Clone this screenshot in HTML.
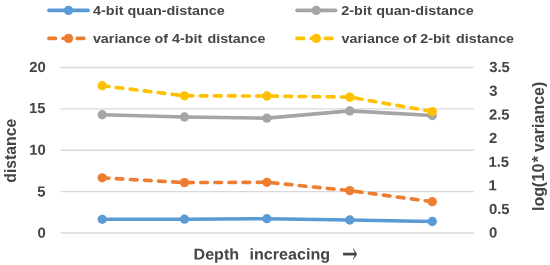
<!DOCTYPE html><html><head><meta charset="utf-8"><title>chart</title><style>html,body{margin:0;padding:0;background:#fff}svg{display:block}text{font-family:"Liberation Sans",sans-serif;font-weight:bold;fill:#454545;white-space:pre}</style></head><body>
<svg width="550" height="265" viewBox="0 0 550 265">
<rect width="550" height="265" fill="#fff"/>
<line x1="60.6" x2="474" y1="67.5" y2="67.5" stroke="#d9d9d9" stroke-width="1.33"/>
<line x1="60.6" x2="474" y1="108.9" y2="108.9" stroke="#d9d9d9" stroke-width="1.33"/>
<line x1="60.6" x2="474" y1="150.25" y2="150.25" stroke="#d9d9d9" stroke-width="1.33"/>
<line x1="60.6" x2="474" y1="191.6" y2="191.6" stroke="#d9d9d9" stroke-width="1.33"/>
<line x1="60.6" x2="474" y1="233.0" y2="233.0" stroke="#d9d9d9" stroke-width="1.33"/>
<polyline points="102.2,219.3 184.5,219.2 266.9,218.7 349.8,220.0 432.3,221.5" fill="none" stroke="#5b9bd5" stroke-width="3.6" stroke-linecap="round" stroke-linejoin="round"/><circle cx="102.2" cy="219.3" r="4.65" fill="#5b9bd5"/><circle cx="184.5" cy="219.2" r="4.65" fill="#5b9bd5"/><circle cx="266.9" cy="218.7" r="4.65" fill="#5b9bd5"/><circle cx="349.8" cy="220.0" r="4.65" fill="#5b9bd5"/><circle cx="432.3" cy="221.5" r="4.65" fill="#5b9bd5"/>
<polyline points="102.2,114.75 184.5,117.0 266.9,118.1 349.8,110.9 432.3,115.5" fill="none" stroke="#a5a5a5" stroke-width="3.6" stroke-linecap="round" stroke-linejoin="round"/><circle cx="102.2" cy="114.75" r="4.65" fill="#a5a5a5"/><circle cx="184.5" cy="117.0" r="4.65" fill="#a5a5a5"/><circle cx="266.9" cy="118.1" r="4.65" fill="#a5a5a5"/><circle cx="349.8" cy="110.9" r="4.65" fill="#a5a5a5"/><circle cx="432.3" cy="115.5" r="4.65" fill="#a5a5a5"/>
<polyline points="102.2,177.8 184.5,182.6 266.9,182.3 349.8,190.6 432.3,201.7" fill="none" stroke="#ed7d31" stroke-width="3.6" stroke-linecap="round" stroke-linejoin="round" stroke-dasharray="6.7 7.4"/><circle cx="102.2" cy="177.8" r="4.65" fill="#ed7d31"/><circle cx="184.5" cy="182.6" r="4.65" fill="#ed7d31"/><circle cx="266.9" cy="182.3" r="4.65" fill="#ed7d31"/><circle cx="349.8" cy="190.6" r="4.65" fill="#ed7d31"/><circle cx="432.3" cy="201.7" r="4.65" fill="#ed7d31"/>
<polyline points="102.2,85.7 184.5,95.8 266.9,96.0 349.8,97.1 432.3,111.6" fill="none" stroke="#ffc000" stroke-width="3.6" stroke-linecap="round" stroke-linejoin="round" stroke-dasharray="6.7 7.4"/><circle cx="102.2" cy="85.7" r="4.65" fill="#ffc000"/><circle cx="184.5" cy="95.8" r="4.65" fill="#ffc000"/><circle cx="266.9" cy="96.0" r="4.65" fill="#ffc000"/><circle cx="349.8" cy="97.1" r="4.65" fill="#ffc000"/><circle cx="432.3" cy="111.6" r="4.65" fill="#ffc000"/>
<line x1="48.90" x2="88.10" y1="10.4" y2="10.4" stroke="#5b9bd5" stroke-width="3.6" stroke-linecap="round"/><circle cx="68.50" cy="10.4" r="4.65" fill="#5b9bd5"/>
<line x1="48.90" x2="55.50" y1="38.4" y2="38.4" stroke="#ed7d31" stroke-width="3.6" stroke-linecap="round"/><line x1="63.10" x2="69.70" y1="38.4" y2="38.4" stroke="#ed7d31" stroke-width="3.6" stroke-linecap="round"/><line x1="77.30" x2="83.90" y1="38.4" y2="38.4" stroke="#ed7d31" stroke-width="3.6" stroke-linecap="round"/><circle cx="68.50" cy="38.4" r="4.65" fill="#ed7d31"/>
<line x1="297.00" x2="335.60" y1="10.4" y2="10.4" stroke="#a5a5a5" stroke-width="3.6" stroke-linecap="round"/><circle cx="316.30" cy="10.4" r="4.65" fill="#a5a5a5"/>
<line x1="297.00" x2="303.60" y1="38.4" y2="38.4" stroke="#ffc000" stroke-width="3.6" stroke-linecap="round"/><line x1="311.20" x2="317.80" y1="38.4" y2="38.4" stroke="#ffc000" stroke-width="3.6" stroke-linecap="round"/><line x1="325.40" x2="332.00" y1="38.4" y2="38.4" stroke="#ffc000" stroke-width="3.6" stroke-linecap="round"/><circle cx="316.30" cy="38.4" r="4.65" fill="#ffc000"/>
<text transform="matrix(1.0170 0.0005 0 1 29.24 72.05)" font-size="14.6">20</text>
<text transform="matrix(1.0170 0.0005 0 1 29.00 113.10)" font-size="14.6">15</text>
<text transform="matrix(1.0170 0.0005 0 1 29.24 154.70)" font-size="14.6">10</text>
<text transform="matrix(1.0170 0.0005 0 1 37.26 196.50)" font-size="14.6">5</text>
<text transform="matrix(1.0170 0.0005 0 1 37.49 237.80)" font-size="14.6">0</text>
<text transform="matrix(1.0170 0.0005 0 1 489.17 72.10)" font-size="14.6">3.5</text>
<text transform="matrix(1.0170 0.0005 0 1 489.17 95.74)" font-size="14.6">3</text>
<text transform="matrix(1.0170 0.0005 0 1 488.94 119.39)" font-size="14.6">2.5</text>
<text transform="matrix(1.0170 0.0005 0 1 488.94 143.03)" font-size="14.6">2</text>
<text transform="matrix(1.0170 0.0005 0 1 488.47 166.67)" font-size="14.6">1.5</text>
<text transform="matrix(1.0170 0.0005 0 1 488.47 190.31)" font-size="14.6">1</text>
<text transform="matrix(1.0170 0.0005 0 1 488.94 213.96)" font-size="14.6">0.5</text>
<text transform="matrix(1.0170 0.0005 0 1 488.94 237.60)" font-size="14.6">0</text>
<text transform="matrix(1.0560 0.0005 0 1 93.10 15.10)" font-size="13.6" dx="0 0 0 0 0 0 0.14">4-bit quan-distance</text>
<text transform="matrix(1.0515 0.0005 0 1 92.90 42.80)" font-size="13.6" dx="0 0 0 0 0 0 0 0 0 -0.44 0 0 0.07 0 0 0 0 0 1.23">variance of 4-bit distance</text>
<text transform="matrix(1.0596 0.0005 0 1 341.25 15.10)" font-size="13.6" dx="0 0 0 0 0 0 0.45">2-bit quan-distance</text>
<text transform="matrix(1.0515 0.0005 0 1 341.50 42.80)" font-size="13.6" dx="0 0 0 0 0 0 0 0 0 -0.44 0 0 -0.35 0 0 0 0 0 1.66">variance of 2-bit distance</text>
<text transform="translate(16.20,182.64) rotate(-90) scale(1.0102,1)" font-size="15.6">distance</text>
<text transform="translate(543.50,211.00) rotate(-90) scale(1.0258,1)" font-size="15.6" dx="0 0 0 -0.34 0.61 0 1.27 3.97">log(10*variance)</text>
<text transform="matrix(1.0334 0.0005 0 1 193.49 259.50)" font-size="15.6" dx="0 0 0 0 0 0 0 1.33">Depth  increacing</text>
<text transform="translate(342.1,263.4) scale(1,1.48)" font-size="18.7" style="font-family:'DejaVu Serif','DejaVu Sans',serif;font-weight:normal;stroke:#454545;stroke-width:0.2px">→</text>
</svg></body></html>
